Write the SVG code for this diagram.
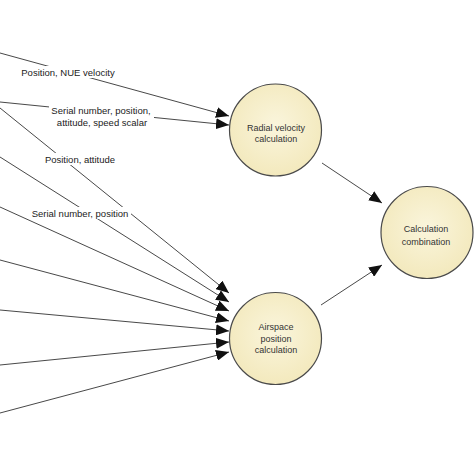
<svg xmlns="http://www.w3.org/2000/svg" width="474" height="474" viewBox="0 0 474 474">
<defs>
<marker id="ah" markerUnits="userSpaceOnUse" markerWidth="14" markerHeight="11" refX="13" refY="5.5" orient="auto">
<path d="M0,0 L13,5.5 L0,11 Z" fill="#111"/>
</marker>
<radialGradient id="fill" cx="50%" cy="45%" r="55%">
<stop offset="0" stop-color="#faf5dc"/>
<stop offset="1" stop-color="#f3e9bd"/>
</radialGradient>
<style>
.ln{stroke:#333;stroke-width:0.9;fill:none;marker-end:url(#ah)}
.nd{fill:url(#fill);stroke:#4a4a4a;stroke-width:1.2}
.lb{font-family:"Liberation Sans",Arial,sans-serif;font-size:9.5px;fill:#222;text-anchor:middle}
.nt{font-family:"Liberation Sans",Arial,sans-serif;font-size:9px;fill:#333;text-anchor:middle}
.bg{fill:#fff}
</style>
</defs>
<rect width="474" height="474" fill="#fff"/>
<g id="connectors">
<line class="ln" x1="0" y1="53" x2="229" y2="116"/>
<line class="ln" x1="0" y1="102" x2="229" y2="125"/>
<line class="ln" x1="0" y1="108" x2="229" y2="293"/>
<line class="ln" x1="0" y1="157" x2="229" y2="302"/>
<line class="ln" x1="0" y1="207" x2="229" y2="311"/>
<line class="ln" x1="0" y1="260" x2="229" y2="321"/>
<line class="ln" x1="0" y1="310" x2="229" y2="331"/>
<line class="ln" x1="0" y1="365" x2="229" y2="342"/>
<line class="ln" x1="0" y1="413" x2="229" y2="352"/>
<line class="ln" x1="322" y1="163" x2="382" y2="203"/>
<line class="ln" x1="321" y1="305" x2="382" y2="265"/>
</g>
<g id="labels">
<rect class="bg" x="21" y="66" width="95" height="12"/>
<text class="lb" x="68" y="75.5">Position, NUE velocity</text>
<rect class="bg" x="49" y="104" width="105" height="24"/>
<text class="lb" x="101" y="113.5">Serial number, position,</text>
<text class="lb" x="102" y="125.5">attitude, speed scalar</text>
<rect class="bg" x="42" y="153" width="76" height="12"/>
<text class="lb" x="80" y="162.5">Position, attitude</text>
<rect class="bg" x="30" y="207" width="101" height="12"/>
<text class="lb" x="80" y="216.5">Serial number, position</text>
</g>
<g id="radial">
<circle class="nd" cx="275.5" cy="130" r="46"/>
<text class="nt" x="276" y="130.5">Radial velocity</text>
<text class="nt" x="276" y="142">calculation</text>
</g>
<g id="combination">
<circle class="nd" cx="427" cy="232.5" r="46"/>
<text class="nt" x="426" y="231.5">Calculation</text>
<text class="nt" x="426" y="244.5">combination</text>
</g>
<g id="airspace">
<circle class="nd" cx="275.5" cy="338.5" r="46"/>
<text class="nt" x="276" y="330">Airspace</text>
<text class="nt" x="276" y="341.5">position</text>
<text class="nt" x="276" y="353">calculation</text>
</g>
</svg>
